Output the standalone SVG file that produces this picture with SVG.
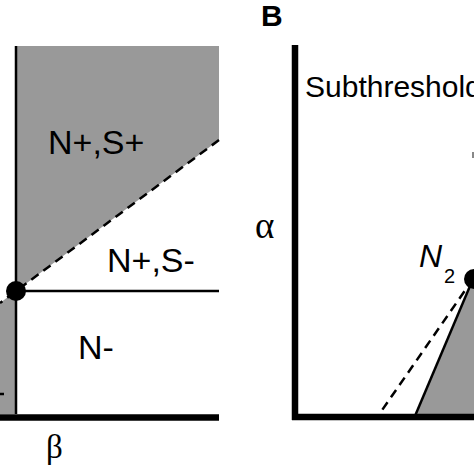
<svg xmlns="http://www.w3.org/2000/svg" width="474" height="474" viewBox="0 0 474 474">
<style>
.lbl{font-family:"Liberation Sans",Arial,sans-serif;font-size:34px;fill:#000}
.greek{font-family:"Liberation Serif","Times New Roman",serif;font-size:33px;fill:#000}
.region{fill:#999}
.axis{stroke:#000;stroke-width:6.5;fill:none}
.thin{stroke:#000;stroke-width:2.5;fill:none}
.dash{stroke:#000;stroke-width:2.5;fill:none;stroke-dasharray:9 6}
</style>
<rect width="474" height="474" fill="#fff"/>
<g id="panelA">
  <g id="regionA-upper"><polygon class="region" points="16,46 219,46 219,140 16,291"/></g>
  <g id="regionA-lower"><polygon class="region" points="0,303 16,291 16,414 0,414"/></g>
  <g id="connectors-A">
    <line class="thin" x1="16" y1="46" x2="16" y2="414"/>
    <line class="thin" x1="16" y1="291" x2="219" y2="291"/>
    <line class="dash" x1="219" y1="140" x2="0" y2="303"/>
    <line class="thin" x1="0" y1="394" x2="4" y2="394"/>
    <line class="axis" x1="0" y1="417.5" x2="219" y2="417.5"/>
  </g>
  <g id="nodeA"><circle cx="16" cy="291" r="10" fill="#000"/></g>
  <text class="lbl" x="48" y="154">N+,S+</text>
  <text class="lbl" x="107" y="272">N+,S-</text>
  <text class="lbl" x="78" y="359">N-</text>
  <text class="greek" x="46" y="458">β</text>
</g>
<g id="panelB">
  <text x="261" y="26" style="font-family:'Liberation Sans',Arial,sans-serif;font-size:30px;font-weight:bold">B</text>
  <g id="regionB"><polygon class="region" points="473,279 415,416 474,416 474,279"/></g>
  <g id="connectors-B">
    <line class="axis" x1="295" y1="45" x2="295" y2="420"/>
    <line class="axis" x1="292" y1="417" x2="474" y2="417"/>
    <line class="thin" x1="473" y1="279" x2="415" y2="416"/>
    <line class="dash" x1="473" y1="279" x2="378" y2="416"/>
  </g>
  <g id="nodeN2"><circle cx="474" cy="279" r="10" fill="#000"/></g>
  <text x="305" y="97" style="font-family:'Liberation Sans',Arial,sans-serif;font-size:30px">Subthreshold</text>
  <rect x="472" y="152" width="2" height="6" fill="#888"/>
  <text class="greek" x="255" y="238" style="font-size:37px">α</text>
  <text x="419" y="267" style="font-family:'Liberation Sans',Arial,sans-serif;font-size:32px;font-style:italic">N<tspan x="444" y="283" style="font-size:20px;font-style:normal">2</tspan></text>
</g>
</svg>
